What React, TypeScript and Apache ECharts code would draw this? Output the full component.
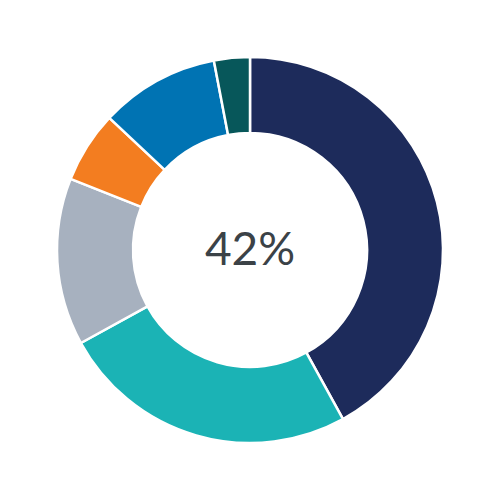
import { useEffect, useRef } from 'react';
import * as echarts from 'echarts';

const categories = ['A', 'B', 'C', 'D', 'E', 'F'];
const values = [42, 25, 14, 6, 10, 3];
const colors = ['#1d2b5b', '#1bb3b5', '#a7b1bf', '#f37d20', '#0073b3', '#07575a'];
const centerLabel = '42%';

export default function App() {
    const chartRef = useRef<HTMLDivElement>(null);

    useEffect(() => {
        if (!chartRef.current) return;
        const chart = echarts.init(chartRef.current, undefined, { renderer: 'svg' });

        chart.setOption({
            animation: false,
            color: colors,
            series: [{
                type: 'pie',
                center: [250, 250],
                radius: [117, 193],
                startAngle: 90,
                clockwise: true,
                label: { show: false },
                labelLine: { show: false },
                itemStyle: { borderColor: '#ffffff', borderWidth: 2.5 },
                data: categories.map((name, i) => ({ name, value: values[i] })),
            }],
            graphic: [{
                type: 'text',
                x: 250,
                y: 247,
                style: {
                    text: centerLabel,
                    align: 'center',
                    verticalAlign: 'middle',
                    fontSize: 46,
                    fontFamily: 'Lato',
                    fontWeight: 400,
                    fill: '#3b4247',
                },
            }],
        });

        return () => {
            chart.dispose();
        };
    }, []);

    return (
        <div
            ref={chartRef}
            style={{ position: 'fixed', left: 0, top: 0, width: 500, height: 500, background: '#fff' }}
        />
    );
}
